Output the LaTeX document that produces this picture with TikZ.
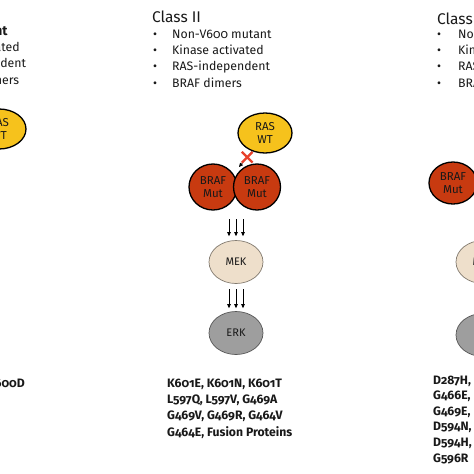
\documentclass[tikz,border=0pt]{standalone}
\usepackage{fontspec}
\setmainfont{Fira Sans}[Numbers=OldStyle]
\usepackage{xcolor}
\usepackage{tikz}
\usetikzlibrary{shapes.geometric,shapes.misc,arrows.meta,positioning,calc}
\definecolor{inkdark}{RGB}{25,25,25}
\definecolor{rasgold}{RGB}{246,194,28}
\definecolor{brafred}{RGB}{200,58,16}
\definecolor{mekbeige}{RGB}{238,223,203}
\definecolor{erkgray}{RGB}{158,158,158}
\definecolor{blockred}{RGB}{232,65,43}
\tikzset{
  rasnode/.style={ellipse,draw=black,line width=1.3pt,fill=rasgold,
    minimum width=54pt,minimum height=40pt,inner sep=0pt,align=center,
    font=\fontsize{11.5}{13}\selectfont,text=inkdark},
  brafnode/.style={ellipse,draw=black,line width=1.3pt,fill=brafred,
    minimum width=48pt,minimum height=46pt,inner sep=0pt,align=center,
    font=\fontsize{11.5}{13}\selectfont,text=inkdark},
  kinnode/.style={ellipse,draw=#1!55!black,line width=0.7pt,fill=#1,
    minimum width=54pt,minimum height=43pt,inner sep=0pt,
    font=\fontsize{11}{12}\selectfont,text=inkdark},
  sigarrow/.style={-{Triangle[length=4pt,width=3.6pt]},line width=0.6pt,color=black},
  blockmark/.style={cross out,draw=blockred,line width=2.3pt,minimum size=8.5pt,
    inner sep=0pt},
  classhead/.style={anchor=base west,inner sep=0pt,
    font=\fontsize{15.5}{18}\selectfont,text=inkdark},
  featlist/.style={anchor=base west,inner sep=0pt,align=left,
    font=\fontsize{12.3}{16.3}\selectfont,text=inkdark},
  mutlist/.style={inner sep=0pt,align=left,
    font=\fontsize{12.2}{16.3}\selectfont\bfseries,text=inkdark},
}
\newcommand{\featbullet}[1][19pt]{\makebox[#1][l]{\textbullet}}

\begin{document}
\begin{tikzpicture}[x=1pt,y=-1pt]

\useasboundingbox (0,0) rectangle (474,474);
\clip (0,0) rectangle (474,474);
\fill[white] (0,0) rectangle (474,474);

%% ── Class I (cut by the left edge) ──────────────────────────────────────
% base anchor sits on the last line
\node[featlist] (c1feat) at (-91,84) {%
  \featbullet{\fontsize{13.4}{16.3}\selectfont\bfseries V600 mutant}\\
  \featbullet Kinase activated\\
  \featbullet RAS-independent\\
  \featbullet BRAF monomers};
\node[rasnode] (ras1) at (-1,129) {RAS\\WT};
\node[mutlist,anchor=base east] (c1mut) at (25,387) {V600D};

%% ── Class II ────────────────────────────────────────────────────────────
\node[classhead] (c2head) at (152,22) {Class II};
\node[featlist] (c2feat) at (153,87) {%
  \featbullet Non-V600 mutant\\
  \featbullet Kinase activated\\
  \featbullet RAS-independent\\
  \featbullet BRAF dimers};
\node[rasnode] (ras2) at (265,133) {RAS\\WT};
\node[brafnode] (braf2a) at (213,187) {BRAF\\Mut};
\node[brafnode,minimum width=47pt] (braf2b) at (257,187) {BRAF\\Mut};
\node[kinnode=mekbeige] (mek2) at (236,262) {MEK};
\node[kinnode=erkgray] (erk2) at (236,333) {ERK};
\node[mutlist,anchor=base west] (c2mut) at (167,436) {%
  K601E, K601N, K601T\\
  L597Q, L597V, G469A\\
  G469V, G469R, G464V\\
  G464E, Fusion Proteins};

% RAS no longer needed: blocked arrow
\coordinate (dock2) at (239,167);
\draw[sigarrow] (ras2.235) -- (dock2);
\node[blockmark] (block2) at ($(ras2.235)!0.38!(dock2)$) {};

% dimer -> MEK -> ERK
\draw[sigarrow] ([xshift=-7pt,yshift=21pt]mek2.north) -- ([xshift=-7pt,yshift=4pt]mek2.north);
\draw[sigarrow] ([yshift=21pt]mek2.north) -- ([yshift=4pt]mek2.north);
\draw[sigarrow] ([xshift=7pt,yshift=21pt]mek2.north) -- ([xshift=7pt,yshift=4pt]mek2.north);
\draw[sigarrow] ([xshift=-7pt,yshift=22pt]erk2.north) -- ([xshift=-7pt,yshift=3pt]erk2.north);
\draw[sigarrow] ([yshift=22pt]erk2.north) -- ([yshift=3pt]erk2.north);
\draw[sigarrow] ([xshift=7pt,yshift=22pt]erk2.north) -- ([xshift=7pt,yshift=3pt]erk2.north);

%% ── Class III (cut by the right edge) ───────────────────────────────────
\node[classhead] (c3head) at (437,24) {Class III};
\node[featlist] (c3feat) at (437,87) {%
  \featbullet[21pt]Non-V600 mutant\\
  \featbullet[21pt]Kinase impaired\\
  \featbullet[21pt]RAS-dependent\\
  \featbullet[21pt]BRAF heterodimers};
\node[brafnode,minimum height=42pt] (braf3) at (453,183) {BRAF\\Mut};
\node[kinnode=mekbeige] (mek3) at (483,262) {MEK};
\node[kinnode=erkgray] (erk3) at (483,335) {ERK};
\node[mutlist,anchor=base west,font=\fontsize{12.2}{15.6}\selectfont\bfseries]
  (c3mut) at (433,462) {%
  D287H,\\
  G466E,\\
  G469E,\\
  D594N,\\
  D594H,\\
  G596R};

\end{tikzpicture}
\end{document}
